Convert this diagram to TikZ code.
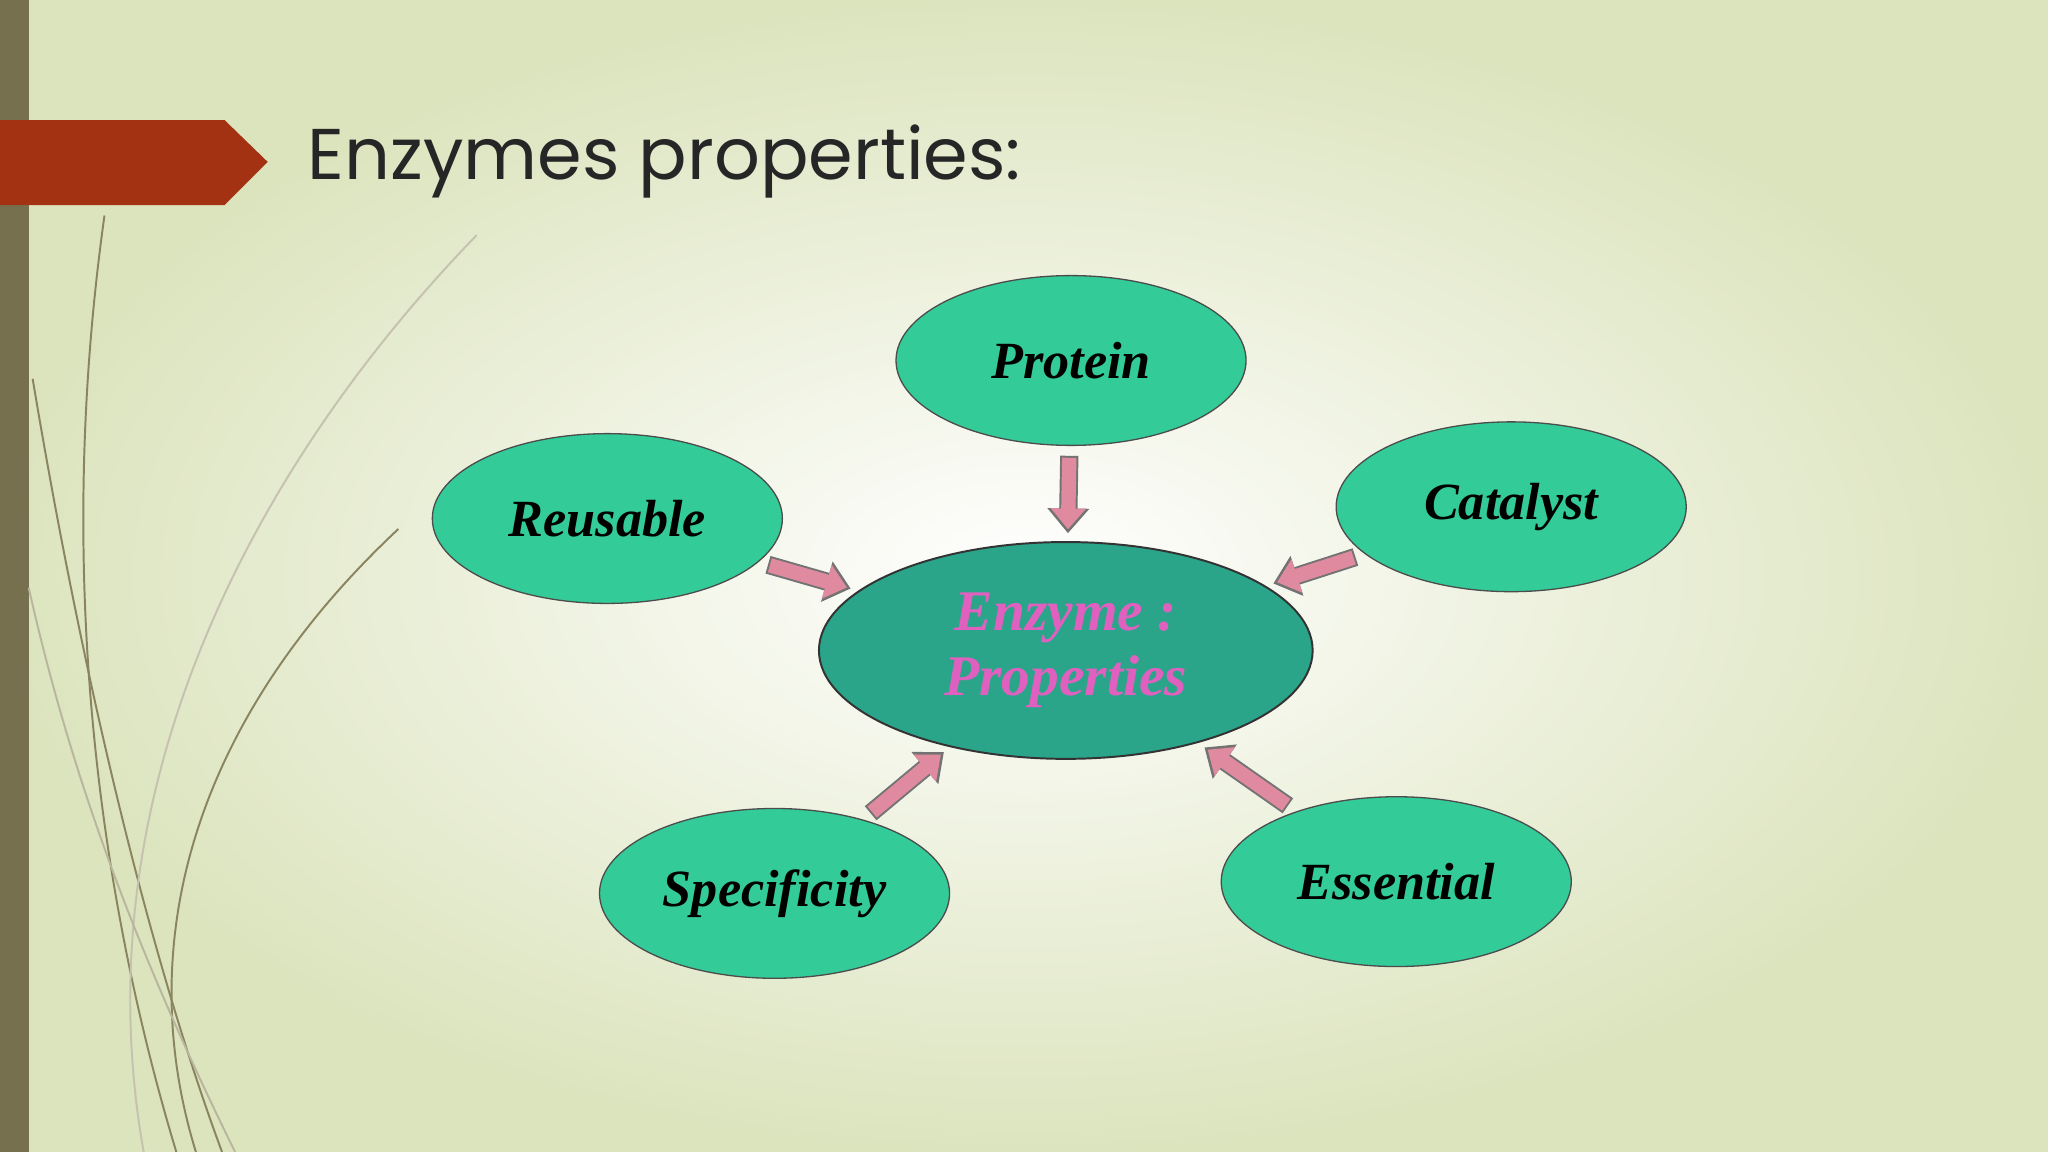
\documentclass[tikz,border=0pt]{standalone}
\usepackage{fontspec}
\setmainfont{Liberation Serif}
\newfontfamily\titlefont{Poppins}
\usetikzlibrary{shapes.geometric,arrows.meta}
\definecolor{bgout}{HTML}{DCE4BE}
\definecolor{bar}{HTML}{76704F}
\definecolor{redtab}{HTML}{A33212}
\definecolor{leaf}{HTML}{33CC99}
\definecolor{core}{HTML}{2AA58A}
\definecolor{pinkfill}{HTML}{E08AA0}
\definecolor{pinktxt}{HTML}{E060C0}
\definecolor{curve}{HTML}{8A8560}
\tikzset{
  leafnode/.style={ellipse, fill=leaf, draw=black!70, line width=1pt, minimum width=268pt, minimum height=130pt, inner sep=0pt, font=\bfseries\itshape\fontsize{40}{40}\selectfont},
  corenode/.style={ellipse, fill=core, draw=black!80, line width=1.5pt, minimum width=378pt, minimum height=166pt, align=center, font=\bfseries\itshape\fontsize{44}{50}\selectfont, text=pinktxt},
  parrow/.style={draw=pinkfill, line width=11pt, -{Triangle[width=26pt,length=16pt]}, shorten <=9pt, shorten >=9pt,
    preaction={draw=black!55, line width=14pt, -{Triangle[width=31pt,length=19pt]}, shorten <=7.5pt, shorten >=6pt}},
  deco/.style={draw=curve, line width=1.5pt}
}
\begin{document}
\begin{tikzpicture}[x=1pt,y=-1pt]
\useasboundingbox (0,0) rectangle (1568,882);
\shade[inner color=white, outer color=bgout] (0,0) rectangle (1568,882);
\fill[bar] (0,0) rectangle (22,882);
\draw[deco] (80,165) .. controls (40,450) and (80,700) .. (135,882);
\draw[deco] (25,290) .. controls (60,500) and (110,720) .. (170,882);
\draw[deco] (305,405) .. controls (150,550) and (100,720) .. (150,882);
\draw[deco, draw=curve!50] (365,180) .. controls (200,350) and (60,600) .. (110,882);
\draw[deco, draw=curve!60] (22,450) .. controls (60,620) and (120,760) .. (180,882);
\fill[redtab] (0,92) -- (172,92) -- (205,124) -- (172,157) -- (0,157) -- cycle;
\node[anchor=west, font=\titlefont\fontsize{55}{58}\selectfont, text=black!85] (title) at (232,124) {Enzymes properties:};
\node[corenode] (cen) at (816,498) {Enzyme :\\ Properties};
\node[leafnode] (prot) at (820,276) {Protein};
\node[leafnode] (cat) at (1157,388) {Catalyst};
\node[leafnode] (reu) at (465,397) {Reusable};
\node[leafnode] (spec) at (593,684) {Specificity};
\node[leafnode] (ess) at (1069,675) {Essential};
\draw[parrow] (prot) -- (cen);
\draw[parrow] (cat) -- (cen);
\draw[parrow] (reu) -- (cen);
\draw[parrow] (spec) -- (cen);
\draw[parrow] (ess) -- (cen);
\end{tikzpicture}
\end{document}
